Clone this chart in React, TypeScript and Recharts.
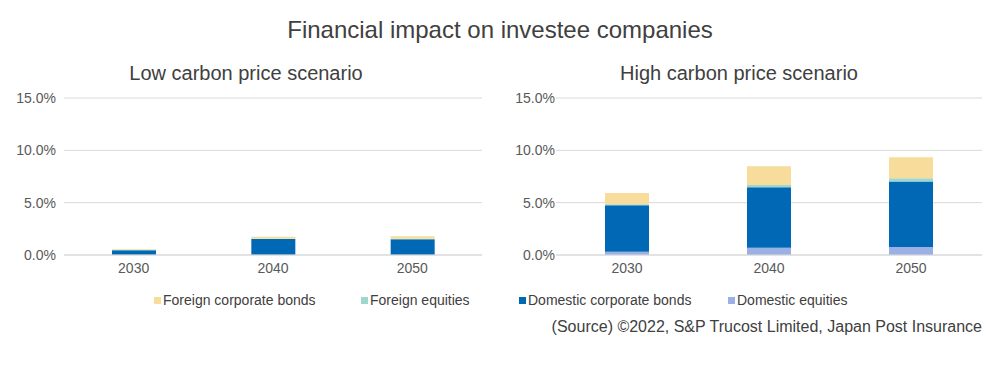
import { Bar, BarChart, CartesianGrid, XAxis, YAxis } from "recharts";

const years = ["2030", "2040", "2050"];
const yTicks = [0, 5, 10, 15];

// values in %
const lowDomesticEquities = [0.02, 0.02, 0.02];
const lowDomesticBonds = [0.44, 1.5, 1.49];
const lowForeignEquities = [0.01, 0.03, 0.04];
const lowForeignBonds = [0.08, 0.2, 0.25];

const highDomesticEquities = [0.3, 0.7, 0.77];
const highDomesticBonds = [4.45, 5.77, 6.25];
const highForeignEquities = [0.1, 0.22, 0.32];
const highForeignBonds = [1.07, 1.8, 1.99];

const colors = {
  foreignBonds: "#F7DC9B",
  foreignEquities: "#9DD7CD",
  domesticBonds: "#0068B5",
  domesticEquities: "#9BB1E6",
};

const legendItems = [
  { name: "Foreign corporate bonds", color: colors.foreignBonds, x: 154 },
  { name: "Foreign equities", color: colors.foreignEquities, x: 361 },
  { name: "Domestic corporate bonds", color: colors.domesticBonds, x: 519 },
  { name: "Domestic equities", color: colors.domesticEquities, x: 728 },
];

const lowData = years.map((year, i) => ({
  year,
  de: lowDomesticEquities[i],
  db: lowDomesticBonds[i],
  fe: lowForeignEquities[i],
  fb: lowForeignBonds[i],
}));

const highData = years.map((year, i) => ({
  year,
  de: highDomesticEquities[i],
  db: highDomesticBonds[i],
  fe: highForeignEquities[i],
  fb: highForeignBonds[i],
}));

const font = "Arial, 'Liberation Sans', sans-serif";
const tickStyle = { fontSize: 14, fill: "#595959", fontFamily: font };

const Panel = ({ data, yWidth, tickSize, tickMargin }: any) => (
  <BarChart
    width={500}
    height={195}
    data={data}
    margin={{ top: 8, right: 18, bottom: 0, left: 0 }}
    barSize={44}
  >
    <CartesianGrid vertical={false} stroke="#D9D9D9" />
    <XAxis
      dataKey="year"
      axisLine={{ stroke: "#D9D9D9" }}
      tickLine={false}
      tick={tickStyle}
      height={30}
    />
    <YAxis
      domain={[0, 15]}
      ticks={yTicks}
      width={yWidth}
      axisLine={false}
      tickLine={false}
      tickSize={tickSize}
      tickMargin={tickMargin}
      tick={tickStyle}
      tickFormatter={(v: number) => `${v.toFixed(1)}%`}
    />
    <Bar dataKey="de" stackId="a" fill={colors.domesticEquities} isAnimationActive={false} />
    <Bar dataKey="db" stackId="a" fill={colors.domesticBonds} isAnimationActive={false} />
    <Bar dataKey="fe" stackId="a" fill={colors.foreignEquities} isAnimationActive={false} />
    <Bar dataKey="fb" stackId="a" fill={colors.foreignBonds} isAnimationActive={false} />
  </BarChart>
);

const App = () => {
  return (
    <div
      style={{
        position: "absolute",
        left: 0,
        top: 0,
        width: 1000,
        height: 365,
        background: "#fff",
        fontFamily: font,
        color: "#404040",
      }}
    >
      <div style={{ position: "absolute", top: 16, width: 1000, textAlign: "center", fontSize: 24 }}>
        Financial impact on investee companies
      </div>
      <div style={{ position: "absolute", top: 62, left: 46, width: 400, textAlign: "center", fontSize: 20 }}>
        Low carbon price scenario
      </div>
      <div style={{ position: "absolute", top: 62, left: 539, width: 400, textAlign: "center", fontSize: 20 }}>
        High carbon price scenario
      </div>
      <div style={{ position: "absolute", top: 90, left: 0 }}>
        <Panel data={lowData} yWidth={64} tickSize={6} tickMargin={2} />
      </div>
      <div style={{ position: "absolute", top: 90, left: 500 }}>
        <Panel data={highData} yWidth={56} tickSize={0} tickMargin={1} />
      </div>
      {legendItems.map((item) => (
        <div
          key={item.name}
          style={{
            position: "absolute",
            top: 292,
            left: item.x,
            display: "flex",
            alignItems: "center",
            fontSize: 14,
            color: "#404040",
            whiteSpace: "nowrap",
          }}
        >
          <span style={{ width: 7, height: 7, background: item.color, marginRight: 2 }} />
          {item.name}
        </div>
      ))}
      <div style={{ position: "absolute", top: 318, right: 18, fontSize: 16, color: "#404040", whiteSpace: "nowrap" }}>
        (Source) ©2022, S&amp;P Trucost Limited, Japan Post Insurance
      </div>
    </div>
  );
};

export default App;
